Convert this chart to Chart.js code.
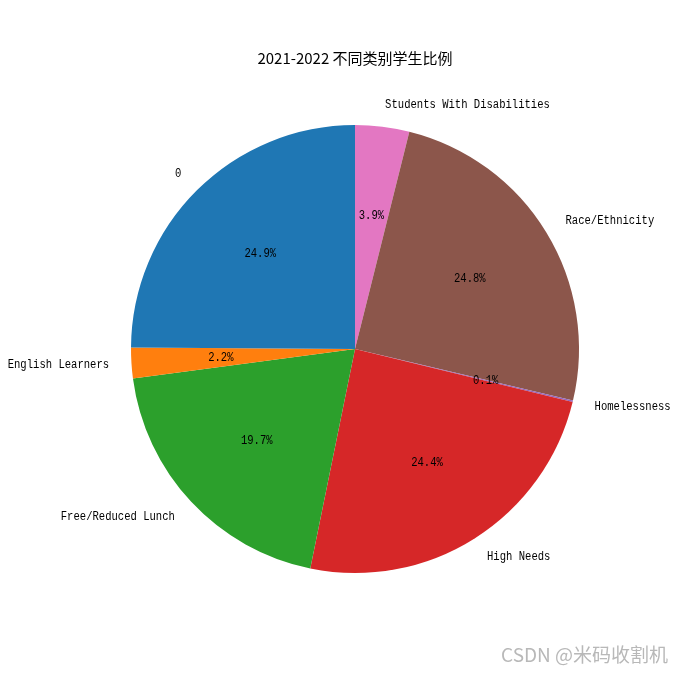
<!DOCTYPE html>
<html>
<head>
<meta charset="utf-8">
<script src="https://cdn.jsdelivr.net/npm/chart.js@4"></script>
<style>
  html, body { margin: 0; padding: 0; background: #fff; }
  #wrap { width: 684px; height: 673px; position: relative; }
</style>
</head>
<body>
<div id="wrap"><canvas id="grafico"></canvas></div>
<script>
// datos (orden de matplotlib, antihorario desde arriba)
let categorias = ["0", "English Learners", "Free/Reduced Lunch", "High Needs", "Homelessness", "Race/Ethnicity", "Students With Disabilities"];
let porcentajes = [24.9, 2.2, 19.7, 24.4, 0.1, 24.8, 3.9];
let colores = ["#1f77b4", "#ff7f0e", "#2ca02c", "#d62728", "#9467bd", "#8c564b", "#e377c2"];
let titulo = "2021-2022 不同类别学生比例";
let marcaAgua = "CSDN @米码收割机";

// Chart.js dibuja en sentido horario, así que invertimos el orden
let etiquetasInv = categorias.slice().reverse();
let valoresInv = porcentajes.slice().reverse();
let coloresInv = colores.slice().reverse();

const fuenteMono = "'Liberation Mono', 'DejaVu Sans Mono', monospace";
const escalaX = 0.88; // letra estrecha y alta, parecida a SimHei

function textoEstrecho(ctx, texto, x, y, align) {
  ctx.save();
  ctx.translate(x, y);
  ctx.scale(escalaX, 1);
  ctx.textAlign = align;
  ctx.fillText(texto, 0, 0);
  ctx.restore();
}

// etiquetas fuera (1.1r) y porcentajes dentro (0.6r), como matplotlib
const etiquetasPlugin = {
  id: "etiquetasPie",
  afterDraw(chart) {
    let ctx = chart.ctx;
    let arcos = chart.getDatasetMeta(0).data;
    ctx.save();
    ctx.fillStyle = "#000";
    ctx.textBaseline = "middle";
    ctx.font = "12px " + fuenteMono;
    arcos.forEach((arco, i) => {
      let mid = (arco.startAngle + arco.endAngle) / 2;
      let r = arco.outerRadius;
      let cx = arco.x, cy = arco.y;
      let lx = cx + Math.cos(mid) * r * 1.1;
      let ly = cy + Math.sin(mid) * r * 1.1;
      textoEstrecho(ctx, etiquetasInv[i], lx, ly, Math.cos(mid) >= 0 ? "left" : "right");
      let px = cx + Math.cos(mid) * r * 0.6;
      let py = cy + Math.sin(mid) * r * 0.6;
      textoEstrecho(ctx, valoresInv[i].toFixed(1) + "%", px, py, "center");
    });
    // marca de agua
    ctx.font = "19px 'Noto Sans CJK SC', sans-serif";
    ctx.fillStyle = "#b8b8b8";
    ctx.textAlign = "right";
    ctx.fillText(marcaAgua, 668, 655);
    ctx.restore();
  }
};

new Chart(document.getElementById("grafico").getContext("2d"), {
  type: "pie",
  data: {
    labels: etiquetasInv,
    datasets: [{
      data: valoresInv,
      backgroundColor: coloresInv,
      borderWidth: 0
    }]
  },
  options: {
    responsive: true,
    maintainAspectRatio: false,
    animation: false,
    rotation: 0,
    layout: { padding: { left: 131, right: 105, top: 0, bottom: 100 } },
    plugins: {
      legend: { display: false },
      tooltip: { enabled: false },
      title: {
        display: true,
        text: titulo,
        color: "#000",
        font: { family: "'Noto Sans CJK SC', sans-serif", size: 15, weight: "normal", lineHeight: 1.2 },
        padding: { top: 49, bottom: 58 }
      }
    }
  },
  plugins: [etiquetasPlugin]
});
</script>
</body>
</html>
